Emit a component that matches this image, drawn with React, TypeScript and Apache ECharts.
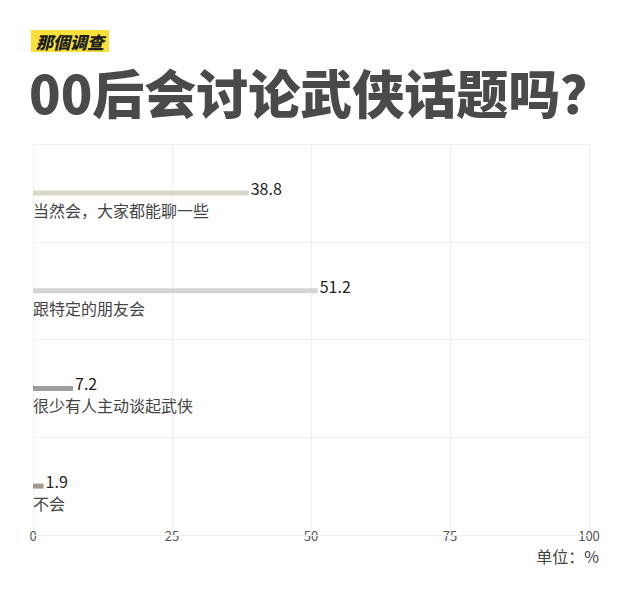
import React, { useEffect, useRef } from "react";
import * as echarts from "echarts";

const categories = ["当然会，大家都能聊一些", "跟特定的朋友会", "很少有人主动谈起武侠", "不会"];
const values = [38.8, 51.2, 7.2, 1.9];
const barColors = ["#d9d7c8", "#d2d5d3", "#9c9e9d", "#a3978d"];
const xTicks = [0, 25, 50, 75, 100];

const FONT = '"Noto Sans CJK SC", "Noto Sans", sans-serif';

export default function App() {
  const ref = useRef<HTMLDivElement>(null);
  useEffect(() => {
    document.body.style.margin = "0";
    const chart = echarts.init(ref.current!, null, { renderer: "svg" });
    chart.setOption({
      animation: false,
      backgroundColor: "#ffffff",
      textStyle: { fontFamily: FONT },
      title: [
        {
          text: "那個调查",
          left: 31,
          top: 30,
          padding: [3, 5, 2, 5],
          backgroundColor: "#f7e03a",
          textStyle: {
            fontFamily: FONT,
            fontSize: 17,
            lineHeight: 17,
            fontWeight: 900,
            fontStyle: "italic",
            color: "#1e1e1e",
          },
        },
        {
          text: "00后会讨论武侠话题吗？",
          left: 29,
          top: 62,
          padding: 0,
          textStyle: {
            fontFamily: FONT,
            fontSize: 52,
            lineHeight: 58,
            fontWeight: 900,
            color: "#4a4a4a",
          },
        },
      ],
      graphic: [
        {
          type: "text",
          right: 41,
          top: 548,
          style: {
            text: "单位：%",
            font: `16px ${FONT}`,
            fill: "#444",
          },
        },
      ],
      grid: { left: 33, right: 51, top: 144, bottom: 55, containLabel: false },
      xAxis: {
        type: "value",
        min: 0,
        max: 100,
        interval: 25,
        axisLine: { show: false },
        axisTick: { show: false },
        splitLine: { show: true, lineStyle: { color: "#efefef", width: 1 } },
        axisLabel: {
          color: "#555",
          fontSize: 13,
          lineHeight: 13,
          fontFamily: FONT,
          margin: 0,
          verticalAlign: "middle",
          formatter: (v: number) => (xTicks.includes(v) ? String(v) : ""),
        },
      },
      yAxis: {
        type: "category",
        data: categories,
        inverse: true,
        axisLine: { show: false },
        axisTick: { show: false },
        splitLine: { show: true, lineStyle: { color: "#efefef", width: 1 } },
        axisLabel: {
          inside: true,
          margin: 0,
          align: "left",
          verticalAlign: "top",
          padding: [9, 0, 0, 0],
          lineHeight: 16,
          fontSize: 16,
          color: "#444",
          fontFamily: FONT,
        },
        z: 5,
      },
      series: [
        {
          type: "bar",
          barWidth: 5,
          data: values.map((v, i) => ({ value: v, itemStyle: { color: barColors[i] } })),
          label: {
            show: true,
            position: "right",
            distance: 2,
            offset: [0, -5],
            fontSize: 16,
            lineHeight: 16,
            color: "#222",
            fontFamily: FONT,
          },
        },
      ],
    });
    return () => chart.dispose();
  }, []);
  return <div ref={ref} style={{ width: 640, height: 590 }} />;
}
